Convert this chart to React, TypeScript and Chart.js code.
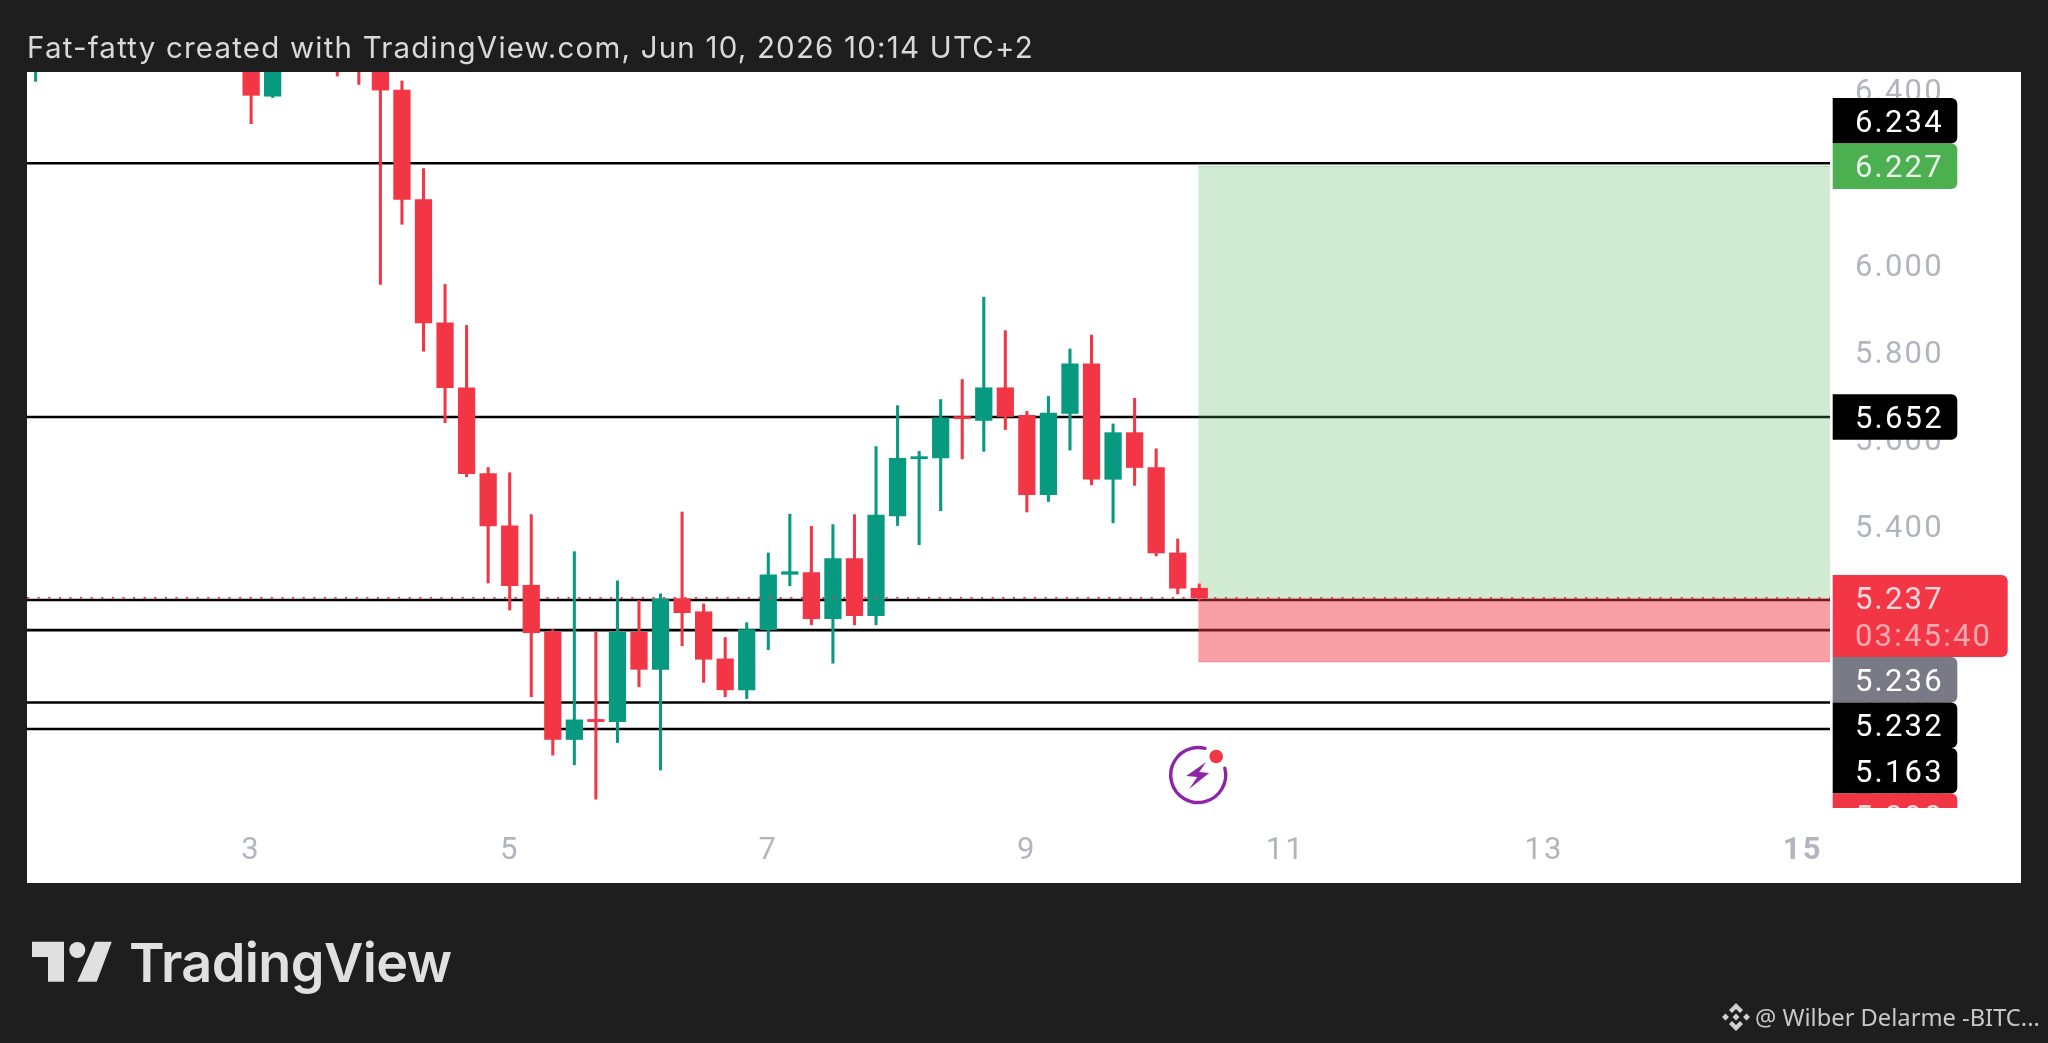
import React, { useEffect, useRef } from "react";
import { Chart, registerables } from "chart.js";

Chart.register(...registerables);

// 4h bars, numbered from the 00:00 bar of day 3. Bars clipped above the pane are estimates.
const barIndex = [-10, 0, 1, 4, 5, 6, 7, 8, 9, 10, 11, 12, 13, 14, 15, 16, 17, 18, 19, 20, 21, 22, 23, 24, 25, 26, 27, 28, 29, 30, 31, 32, 33, 34, 35, 36, 37, 38, 39, 40, 41, 42, 43, 44];
const opens = [6.5, 6.47, 6.388, 6.6, 6.55, 6.47, 6.402, 6.151, 5.868, 5.719, 5.522, 5.402, 5.266, 5.159, 4.912, 4.958, 4.953, 5.158, 5.073, 5.235, 5.205, 5.097, 5.026, 5.164, 5.291, 5.295, 5.189, 5.327, 5.196, 5.425, 5.556, 5.558, 5.653, 5.644, 5.719, 5.656, 5.474, 5.66, 5.774, 5.509, 5.616, 5.536, 5.34, 5.259];
const highs = [6.6, 6.5, 6.48, 6.65, 6.6, 6.5, 6.423, 6.222, 5.956, 5.862, 5.536, 5.524, 5.428, 5.164, 5.343, 5.158, 5.276, 5.231, 5.246, 5.434, 5.223, 5.146, 5.18, 5.34, 5.429, 5.401, 5.405, 5.428, 5.584, 5.678, 5.573, 5.692, 5.738, 5.927, 5.85, 5.665, 5.699, 5.808, 5.84, 5.636, 5.695, 5.579, 5.372, 5.269];
const lows = [6.422, 6.325, 6.385, 6.434, 6.415, 5.956, 6.094, 5.803, 5.639, 5.515, 5.271, 5.209, 5.01, 4.876, 4.854, 4.775, 4.905, 5.033, 4.842, 5.127, 5.043, 5.01, 5.006, 5.118, 5.265, 5.175, 5.087, 5.175, 5.175, 5.403, 5.359, 5.437, 5.556, 5.573, 5.623, 5.434, 5.458, 5.576, 5.496, 5.409, 5.495, 5.333, 5.246, 5.232];
const closes = [6.55, 6.39, 6.46, 6.5, 6.47, 6.402, 6.151, 5.868, 5.719, 5.522, 5.402, 5.265, 5.157, 4.912, 4.957, 4.953, 5.158, 5.073, 5.235, 5.203, 5.096, 5.026, 5.164, 5.29, 5.297, 5.189, 5.327, 5.196, 5.427, 5.557, 5.561, 5.65, 5.648, 5.719, 5.653, 5.474, 5.661, 5.774, 5.509, 5.616, 5.536, 5.34, 5.259, 5.237];

const horizontalLevels = [6.234, 5.652, 5.232, 5.163, 4.997, 4.936];
const lastPrice = 5.237;
const entryPrice = 5.236;
const targetPrice = 6.227;
const stopPrice = 5.09;
const positionStartBar = 43.95;

const dayTicks = [3, 5, 7, 9, 11, 13, 15];
const priceTicks = [6.4, 6.2, 6.0, 5.8, 5.6, 5.4, 5.2, 5.0, 4.8];

const priceTags = [
  { lines: ["6.234"], value: 6.234, bg: "#000000", fg: ["#ffffff"], pinned: false },
  { lines: ["6.227"], value: 6.227, bg: "#4caf50", fg: ["#e8f5e9"], pinned: true },
  { lines: ["5.652"], value: 5.652, bg: "#000000", fg: ["#ffffff"], pinned: true },
  { lines: ["5.237", "03:45:40"], value: 5.237, bg: "#f23645", fg: ["#fcd9dc", "#fbaab1"], pinned: true },
  { lines: ["5.236"], value: 5.236, bg: "#787b86", fg: ["#ffffff"], pinned: false },
  { lines: ["5.232"], value: 5.232, bg: "#000000", fg: ["#ffffff"], pinned: false },
  { lines: ["5.163"], value: 5.163, bg: "#000000", fg: ["#ffffff"], pinned: false },
  { lines: ["5.090"], value: 5.09, bg: "#f23645", fg: ["#fcd9dc"], pinned: false },
];

const RED = "#f23645";
const GREEN = "#089981";
const FONT = "Roboto";
const X_MIN = -10.4;
const X_MAX = 73.27;
const Y_MIN = 4.7548;
const Y_MAX = 6.4435;

const uiPlugin = {
  id: "tradingviewUi",
  beforeDraw(chart: any) {
    chart.ctx.letterSpacing = "2.2px";
  },
  afterDatasetsDraw(chart: any) {
    const { ctx, chartArea, scales } = chart;
    const y = scales.y;
    const oneLine = 45.5;
    const heights = priceTags.map((t) => (t.lines.length > 1 ? 82 : oneLine));
    const tops: number[] = priceTags.map(() => NaN);
    priceTags.forEach((t, i) => {
      if (t.pinned) tops[i] = y.getPixelForValue(t.value) - oneLine / 2;
    });
    for (let i = 1; i < tops.length; i++) {
      if (isNaN(tops[i]) && !isNaN(tops[i - 1])) tops[i] = tops[i - 1] + heights[i - 1];
    }
    for (let i = tops.length - 2; i >= 0; i--) {
      if (isNaN(tops[i])) tops[i] = tops[i + 1] - heights[i];
    }

    ctx.save();
    ctx.beginPath();
    ctx.rect(chartArea.right, 72, 191, chartArea.bottom - 72);
    ctx.clip();
    const boxLeft = chartArea.right + 2.7;
    ctx.textAlign = "left";
    ctx.textBaseline = "middle";
    ctx.font = `400 31px ${FONT}`;
    priceTags.forEach((t, i) => {
      const w = t.lines.length > 1 ? 175 : 124.6;
      ctx.fillStyle = t.bg;
      ctx.beginPath();
      ctx.roundRect(boxLeft, tops[i], w, heights[i], [0, 6, 6, 0]);
      ctx.fill();
      t.lines.forEach((line, j) => {
        ctx.fillStyle = t.fg[j];
        ctx.fillText(line, chartArea.right + 25, tops[i] + 26 + j * 37);
      });
    });
    ctx.restore();

    // alert icon under the last bar
    const cx = scales.x.getPixelForValue(positionStartBar);
    const cy = 775;
    ctx.save();
    ctx.strokeStyle = "#8e24aa";
    ctx.fillStyle = "#8e24aa";
    ctx.lineWidth = 3.4;
    ctx.lineCap = "round";
    ctx.beginPath();
    ctx.arc(cx, cy, 27.5, -0.08 * Math.PI, 1.58 * Math.PI);
    ctx.stroke();
    ctx.beginPath();
    ctx.moveTo(cx + 8, cy - 13);
    ctx.lineTo(cx - 12, cy + 1);
    ctx.lineTo(cx - 1, cy + 2);
    ctx.lineTo(cx - 9, cy + 14);
    ctx.lineTo(cx + 11, cy - 2);
    ctx.lineTo(cx + 1, cy - 3);
    ctx.closePath();
    ctx.fill();
    ctx.fillStyle = RED;
    ctx.beginPath();
    ctx.arc(cx + 18, cy - 18.5, 6.8, 0, 2 * Math.PI);
    ctx.fill();
    ctx.restore();
  },
};

export default function App() {
  const ref = useRef<HTMLCanvasElement>(null);

  useEffect(() => {
    const colors = opens.map((o, i) => (closes[i] >= o ? GREEN : RED));
    const lineDatasets = horizontalLevels.map((level) => ({
      type: "line" as const,
      data: [{ x: X_MIN, y: level }, { x: X_MAX, y: level }],
      borderColor: "#000000",
      borderWidth: 2.6,
      pointRadius: 0,
      order: 6,
    }));
    const chart = new Chart(ref.current as HTMLCanvasElement, {
      type: "bar",
      plugins: [uiPlugin],
      data: {
        datasets: [
          ...lineDatasets,
          {
            type: "line",
            data: [{ x: positionStartBar, y: targetPrice }, { x: X_MAX, y: targetPrice }],
            borderColor: "rgba(76,175,80,0.35)",
            borderWidth: 1,
            pointRadius: 0,
            backgroundColor: "rgba(76,175,80,0.26)",
            fill: { value: entryPrice },
            order: 5,
          },
          {
            type: "line",
            data: [{ x: positionStartBar, y: stopPrice }, { x: X_MAX, y: stopPrice }],
            borderColor: "rgba(242,54,69,0.3)",
            borderWidth: 1,
            pointRadius: 0,
            backgroundColor: "rgba(242,54,69,0.48)",
            fill: { value: entryPrice },
            order: 5,
          },
          {
            type: "bar",
            data: barIndex.map((x, i) => ({ x, y: [lows[i], highs[i]] })),
            backgroundColor: colors,
            barThickness: 2.4,
            grouped: false,
            order: 3,
          },
          {
            type: "bar",
            data: barIndex.map((x, i) => ({ x, y: [opens[i], closes[i]] })),
            backgroundColor: colors,
            barThickness: 16.6,
            grouped: false,
            order: 2,
          },
          {
            type: "line",
            data: [{ x: X_MIN, y: lastPrice }, { x: X_MAX, y: lastPrice }],
            borderColor: RED,
            borderWidth: 1.6,
            borderDash: [2.2, 8.4],
            pointRadius: 0,
            order: 1,
          },
        ] as any,
      },
      options: {
        animation: false,
        responsive: false,
        devicePixelRatio: 1,
        events: [],
        layout: { padding: { left: 27, top: 72, right: 27, bottom: 160 } },
        plugins: { legend: { display: false }, tooltip: { enabled: false }, title: { display: false } },
        scales: {
          x: {
            type: "linear",
            offset: false,
            min: X_MIN,
            max: X_MAX,
            grid: { display: false },
            border: { display: false },
            afterFit: (s: any) => {
              s.height = 75;
            },
            afterBuildTicks: (s: any) => {
              s.ticks = dayTicks.map((d) => ({ value: (d - 3) * 6 }));
            },
            ticks: {
              autoSkip: false,
              maxRotation: 0,
              padding: 17,
              color: "#b2b5be",
              font: (c: any) => ({
                family: FONT,
                size: 31,
                weight: c.tick && c.tick.value === (dayTicks[dayTicks.length - 1] - 3) * 6 ? "700" : "400",
              }),
              callback: (v: any) => String(3 + Number(v) / 6),
            },
          },
          y: {
            type: "linear",
            position: "right",
            min: Y_MIN,
            max: Y_MAX,
            grid: { display: false },
            border: { display: false },
            afterFit: (s: any) => {
              s.width = 191;
            },
            afterBuildTicks: (s: any) => {
              s.ticks = priceTicks.map((value) => ({ value }));
            },
            ticks: {
              autoSkip: false,
              padding: 17,
              labelOffset: 2.5,
              color: "#b2b5be",
              font: { family: FONT, size: 31 },
              callback: (v: any) => Number(v).toFixed(3),
            },
          },
        },
      } as any,
    });
    return () => chart.destroy();
  }, []);

  return (
    <div style={{ position: "fixed", left: 0, top: 0, width: 2048, height: 1043, background: "#1e1e1e", overflow: "hidden" }}>
      <div style={{ position: "absolute", left: 27, top: 72, width: 1994, height: 811, background: "#ffffff" }} />
      <canvas ref={ref} width={2048} height={1043} style={{ position: "absolute", left: 0, top: 0, display: "block" }} />
      <div style={{ position: "absolute", left: 27, top: 27, lineHeight: "40px", fontFamily: "Inter", fontSize: 29.5, letterSpacing: 1.2, color: "#d9d9d9", whiteSpace: "nowrap" }}>
        Fat-fatty created with TradingView.com, Jun 10, 2026 10:14 UTC+2
      </div>
      <svg width="90" height="50" style={{ position: "absolute", left: 28, top: 937 }} viewBox="28 937 90 50">
        <path d="M32 941.7H64V981.7H48V957H32Z" fill="#e0e0e0" />
        <circle cx="77.3" cy="950" r="8" fill="#e0e0e0" />
        <path d="M95 941.7H111.7L96.7 981.7H77.3Z" fill="#e0e0e0" />
      </svg>
      <div style={{ position: "absolute", left: 129, top: 928, lineHeight: "70px", fontFamily: "Inter", fontWeight: 600, fontSize: 54, letterSpacing: -0.6, color: "#e0e0e0", whiteSpace: "nowrap" }}>
        TradingView
      </div>
      <svg width="30" height="30" style={{ position: "absolute", left: 1721, top: 1002 }} viewBox="-15 -15 30 30">
        <path d="M0 -14L7 -7L4 -4L0 -8L-4 -4L-7 -7ZM0 14L7 7L4 4L0 8L-4 4L-7 7ZM-14 0L-10.5 -3.5L-7 0L-10.5 3.5ZM14 0L10.5 -3.5L7 0L10.5 3.5ZM0 -3.5L3.5 0L0 3.5L-3.5 0Z" fill="#d0d0d0" />
      </svg>
      <div style={{ position: "absolute", left: 1755, top: 1000, lineHeight: "34px", fontFamily: "'Noto Sans'", fontSize: 23.7, color: "#c8c8c8", whiteSpace: "nowrap" }}>
        @ Wilber Delarme -BITC...
      </div>
    </div>
  );
}
